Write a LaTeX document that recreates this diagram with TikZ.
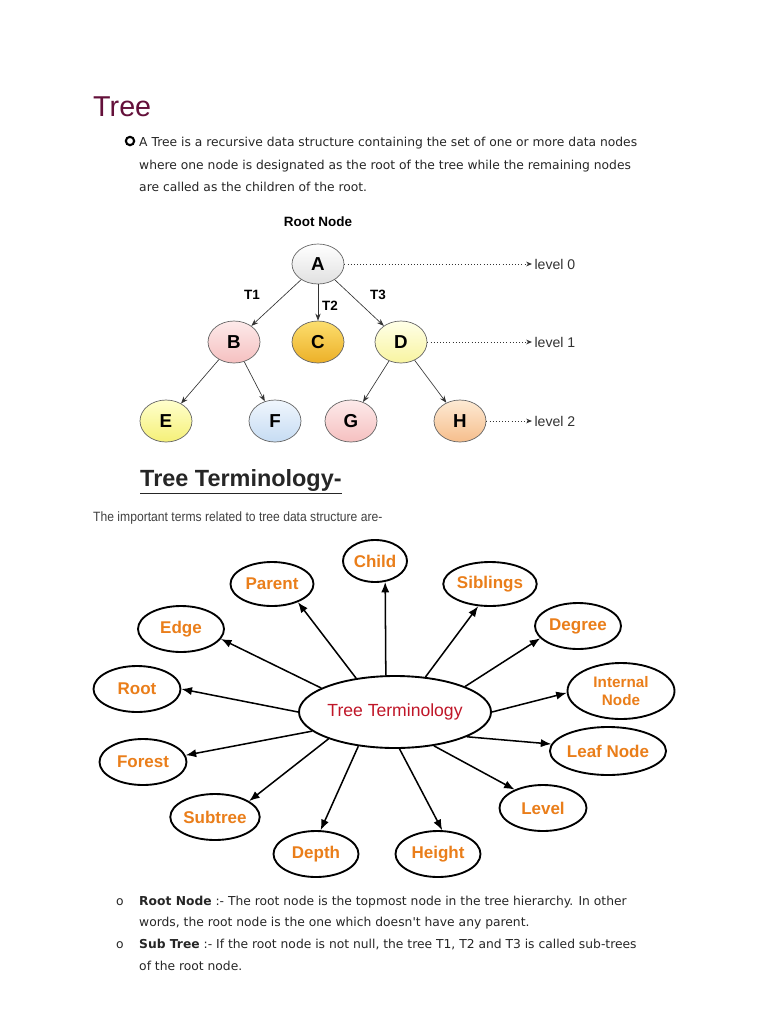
\documentclass[tikz,border=0pt]{standalone}
\usepackage{fontspec}
\setmainfont{Liberation Sans}
\newfontfamily\bodyfont{DejaVu Sans}
\usetikzlibrary{shapes.geometric, arrows.meta, positioning}
\definecolor{titlered}{RGB}{100,16,58}
\definecolor{termorange}{RGB}{234,126,26}
\definecolor{termred}{RGB}{192,22,40}
\definecolor{cTop}{RGB}{252,222,110}
\definecolor{cBot}{RGB}{236,176,40}
\definecolor{fTop}{RGB}{240,246,253}
\definecolor{fBot}{RGB}{198,220,243}
\definecolor{eTop}{RGB}{255,255,205}
\definecolor{eBot}{RGB}{245,240,120}
\definecolor{dTop}{RGB}{255,255,232}
\definecolor{dBot}{RGB}{248,244,160}
\definecolor{pTop}{RGB}{253,234,234}
\definecolor{pBot}{RGB}{245,192,192}
\definecolor{hTop}{RGB}{253,234,212}
\definecolor{hBot}{RGB}{246,190,140}

\begin{document}
\begin{tikzpicture}[x=0.03cm, y=-0.03cm,
    body/.style={anchor=base west, inner sep=0pt, text=black!85, font=\bodyfont\fontsize{10.5}{12}\selectfont},
    tnode/.style={ellipse, draw=black!60, line width=0.6pt, minimum width=1.56cm, minimum height=1.26cm, inner sep=0pt, font=\fontsize{16}{16}\selectfont\bfseries},
    tlabel/.style={inner sep=0pt, font=\fontsize{11.5}{12}\selectfont\bfseries},
    tedge/.style={-{Stealth[length=6pt,width=4.5pt]}, black!80, line width=0.55pt},
    lvledge/.style={-{Stealth[length=5pt,width=4pt]}, dotted, black!80, line width=0.7pt},
    lvl/.style={anchor=west, inner sep=2pt, text=black!80, font=\fontsize{12}{12}\selectfont},
    term/.style={ellipse, draw, line width=1.6pt, minimum width=2.58cm, minimum height=1.38cm, inner sep=0pt, align=center, text=termorange, font=\fontsize{14.5}{15}\selectfont\bfseries},
    termarrow/.style={-{Latex[length=9pt,width=7pt]}, line width=1.3pt},
]
    \useasboundingbox[fill=white] (0,0) rectangle (768,1024);

    % heading and intro
    \node[anchor=west, inner sep=0pt, text=titlered, font=\fontsize{24.5}{25}\selectfont] (title) at (93,107) {Tree};
    \node[circle, draw, line width=1.8pt, minimum size=0.25cm, inner sep=0pt] (ring) at (130,141) {};
    \node[body] (intro1) at (139,146) {A Tree is a recursive data structure containing the set of one or more data nodes};
    \node[body] (intro2) at (139,169) {where one node is designated as the root of the tree while the remaining nodes};
    \node[body] (intro3) at (139,191) {are called as the children of the root.};

    % the example tree
    \node[tlabel] (rootlbl) at (318,222) {Root Node};
    \node[tnode, minimum height=1.2cm, top color=white, bottom color=black!12] (A) at (318,264) {A};
    \node[tnode, top color=pTop, bottom color=pBot] (B) at (234,342) {B};
    \node[tnode, top color=cTop, bottom color=cBot] (C) at (318,342) {C};
    \node[tnode, top color=dTop, bottom color=dBot] (D) at (401,342) {D};
    \node[tnode, top color=eTop, bottom color=eBot] (E) at (166,421) {E};
    \node[tnode, top color=fTop, bottom color=fBot] (F) at (275,421) {F};
    \node[tnode, top color=pTop, bottom color=pBot] (G) at (351,421) {G};
    \node[tnode, top color=hTop, bottom color=hBot] (H) at (460,421) {H};

    \draw[tedge] (A) -- (B);
    \draw[tedge] (A) -- (C);
    \draw[tedge] (A) -- (D);
    \draw[tedge] (B) -- (E);
    \draw[tedge] (B) -- (F);
    \draw[tedge] (D) -- (G);
    \draw[tedge] (D) -- (H);

    \node[tlabel] (t1) at (252,295) {T1};
    \node[tlabel] (t2) at (330,306) {T2};
    \node[tlabel] (t3) at (378,295) {T3};

    % levels
    \node[lvl] (lvl0) at (532,264) {level 0};
    \node[lvl] (lvl1) at (532,342) {level 1};
    \node[lvl] (lvl2) at (532,421) {level 2};
    \draw[lvledge] (A.east) -- (lvl0.west);
    \draw[lvledge] (D.east) -- (lvl1.west);
    \draw[lvledge] (H.east) -- (lvl2.west);

    % terminology
    \node[anchor=west, inner sep=0pt, text=black!85, font=\fontsize{20}{20}\selectfont\bfseries] (termhead) at (140,482) {\underline{Tree Terminology-}};
    \node[anchor=base west, inner sep=0pt, text=black!75, font=\fontsize{11.5}{12}\selectfont] (termintro) at (93,521) {\scalebox{0.9}[1]{The important terms related to tree data structure are-}};

    \node[ellipse, draw, line width=1.6pt, minimum width=5.76cm, minimum height=2.16cm, inner sep=0pt, text=termred, font=\fontsize{15}{15}\selectfont] (tt) at (395,712) {Tree Terminology};

    \node[term, minimum width=1.92cm, minimum height=1.26cm] (child) at (375,561) {Child};
    \node[term, minimum width=2.49cm, minimum height=1.32cm] (parent) at (272,584) {Parent};
    \node[term, minimum width=2.52cm, minimum height=1.32cm] (siblings) at (490,584) {Siblings};
    \node[term] (edge) at (181,629) {Edge};
    \node[term] (degree) at (578,626) {Degree};
    \node[term, minimum width=2.61cm] (root) at (137,689) {Root};
    \node[term, minimum width=3.21cm, minimum height=1.68cm, font=\fontsize{13}{15}\selectfont\bfseries] (internal) at (621,691) {Internal\\Node};
    \node[term, minimum width=2.61cm] (forest) at (143,762) {Forest};
    \node[term, minimum width=3.09cm, minimum height=1.44cm] (leaf) at (608,751) {Leaf Node};
    \node[term, minimum width=2.61cm] (subtree) at (215,817) {Subtree};
    \node[term, minimum width=2.61cm] (level) at (543,808) {Level};
    \node[term, minimum width=2.55cm] (depth) at (316,854) {Depth};
    \node[term, minimum width=2.55cm] (height) at (438,854) {Height};

    % arrows out of the centre
    \draw[termarrow] (tt.104) -- (child.-64);
    \draw[termarrow] (tt.139) -- (parent.-35);
    \draw[termarrow] (tt.49) -- (siblings.-118);
    \draw[termarrow] (tt.162) -- (edge.-14);
    \draw[termarrow] (tt.20) -- (degree.-162);
    \draw[termarrow] (tt.180) -- (root.0);
    \draw[termarrow] (tt.0) -- (internal.182);
    \draw[termarrow] (tt.193) -- (forest.9);
    \draw[termarrow] (tt.341) -- (leaf.173);
    \draw[termarrow] (tt.202) -- (subtree.25);
    \draw[termarrow] (tt.319) -- (level.147);
    \draw[termarrow] (tt.223) -- (depth.79);
    \draw[termarrow] (tt.277) -- (height.80);

    % definitions
    \node[body] (dot1) at (116,905) {o};
    \node[body] (def1a) at (139,905) {\textbf{Root Node} :- The root node is the topmost node in the tree hierarchy. In other};
    \node[body] (def1b) at (139,926) {words, the root node is the one which doesn't have any parent.};
    \node[body] (dot2) at (116,948) {o};
    \node[body] (def2a) at (139,948) {\textbf{Sub Tree} :- If the root node is not null, the tree T1, T2 and T3 is called sub-trees};
    \node[body] (def2b) at (139,970) {of the root node.};
\end{tikzpicture}
\end{document}
